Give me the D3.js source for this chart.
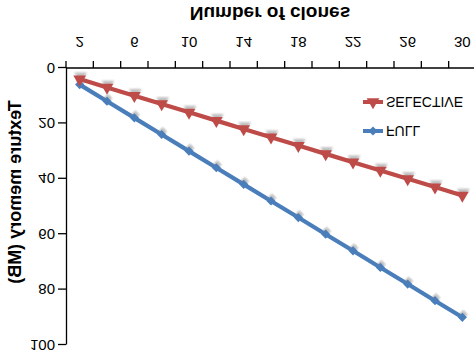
<!DOCTYPE html>
<html>
<head>
<meta charset="utf-8">
<script src="https://cdn.jsdelivr.net/npm/d3@7"></script>
<style>
  body { margin: 0; background: #fff; }
  svg { display: block; font-family: "Liberation Sans", Arial, sans-serif; }
</style>
</head>
<body>
<div id="chart"></div>
<script>
var clones = [2, 4, 6, 8, 10, 12, 14, 16, 18, 20, 22, 24, 26, 28, 30];
var fullMB = [6, 12, 18, 24, 30, 36, 42, 48, 54, 60, 66, 72, 78, 84, 90];
var selectiveMB = [4, 7, 10, 13, 16, 19, 22, 25, 28, 31, 34, 37, 40, 43, 46];
var xLabels = [2, 6, 10, 14, 18, 22, 26, 30];
var yTicks = [0, 20, 40, 60, 80, 100];

var series = [
  { name: 'FULL', values: fullMB, color: '#4A7EBB', shape: 'diamond' },
  { name: 'SELECTIVE', values: selectiveMB, color: '#BE4B48', shape: 'triangle' }
];

var width = 474, height = 353;

var svg = d3.select('#chart').append('svg')
  .attr('width', width)
  .attr('height', height);

var defs = svg.append('defs');
defs.append('filter').attr('id', 'blur')
  .append('feGaussianBlur').attr('stdDeviation', 1);

// the picture is mirrored top to bottom, so draw normally inside a flipped group
var g = svg.append('g')
  .attr('transform', 'translate(0,' + height + ') scale(1,-1)');

var x = d3.scaleBand().domain(clones).range([66, 476]);
var y = d3.scaleLinear().domain([0, 100]).range([285, 8]);
var cx = function (d) { return x(d) + x.bandwidth() / 2; };

// y axis
var yAxis = d3.axisLeft(y).tickValues(yTicks).tickSize(8).tickSizeOuter(0);
var ya = g.append('g').attr('transform', 'translate(66,0)').call(yAxis);
ya.select('.domain').attr('stroke', '#000').attr('stroke-width', 1.3);
ya.selectAll('.tick line').attr('stroke', '#000').attr('stroke-width', 1.3);
ya.selectAll('.tick text').attr('font-size', 15).attr('x', -11).attr('fill', '#000')
  .style('font-family', '"Liberation Sans", Arial, sans-serif');

// x axis, ticks between categories
g.append('line')
  .attr('x1', 66).attr('x2', 476).attr('y1', y(0)).attr('y2', y(0))
  .attr('stroke', '#000').attr('stroke-width', 1.3);
var bounds = clones.map(function (d) { return x(d); }).concat([x.range()[1]]);
g.selectAll('.xtick').data(bounds).enter().append('line')
  .attr('class', 'xtick')
  .attr('x1', function (d) { return d; }).attr('x2', function (d) { return d; })
  .attr('y1', y(0)).attr('y2', y(0) + 7)
  .attr('stroke', '#000').attr('stroke-width', 1.3);
g.selectAll('.xlab').data(xLabels).enter().append('text')
  .attr('class', 'xlab')
  .attr('x', cx).attr('y', 316)
  .attr('text-anchor', 'middle').attr('font-size', 15)
  .text(function (d) { return d; });

g.append('text')
  .attr('x', 270).attr('y', 346)
  .attr('text-anchor', 'middle').attr('font-size', 19).attr('font-weight', 'bold')
  .text('Number of clones');

g.append('text')
  .attr('transform', 'translate(21,161) rotate(-90)')
  .attr('text-anchor', 'middle').attr('font-size', 18).attr('font-weight', 'bold')
  .text('Texture memory (MB)');

function marker(shape) {
  if (shape == 'triangle') return d3.symbol().type(d3.symbolTriangle).size(70)();
  return d3.symbol().type(d3.symbolSquare).size(42)();
}
function rot(shape) { return shape == 'diamond' ? ' rotate(45)' : ''; }

var line = d3.line()
  .x(function (d, i) { return cx(clones[i]); })
  .y(function (d) { return y(d); });

series.forEach(function (s) {
  g.append('path')
    .attr('d', line(s.values))
    .attr('fill', 'none')
    .attr('stroke', s.color)
    .attr('stroke-width', 4.2)
    .attr('stroke-linejoin', 'round');

  // marker shadows
  g.selectAll(null).data(s.values).enter().append('path')
    .attr('d', marker(s.shape))
    .attr('transform', function (d, i) {
      return 'translate(' + (cx(clones[i]) + 1) + ',' + (y(d) + 3) + ')' + rot(s.shape);
    })
    .attr('fill', '#888').attr('opacity', 0.55).attr('filter', 'url(#blur)');

  g.selectAll(null).data(s.values).enter().append('path')
    .attr('d', marker(s.shape))
    .attr('transform', function (d, i) {
      return 'translate(' + cx(clones[i]) + ',' + y(d) + ')' + rot(s.shape);
    })
    .attr('fill', s.color);
});

// legend
var leg = g.selectAll('.leg').data(series).enter().append('g')
  .attr('class', 'leg')
  .attr('transform', function (d, i) { return 'translate(363,' + (222 + i * 29) + ')'; });
leg.append('line').attr('x1', 0).attr('x2', 20)
  .attr('stroke', function (d) { return d.color; }).attr('stroke-width', 4);
leg.append('path')
  .attr('d', function (d) { return marker(d.shape); })
  .attr('transform', function (d) { return 'translate(10,0)' + rot(d.shape); })
  .attr('fill', function (d) { return d.color; });
leg.append('text')
  .attr('x', 23).attr('dy', '0.36em').attr('font-size', 14)
  .text(function (d) { return d.name; });
</script>
</body>
</html>
